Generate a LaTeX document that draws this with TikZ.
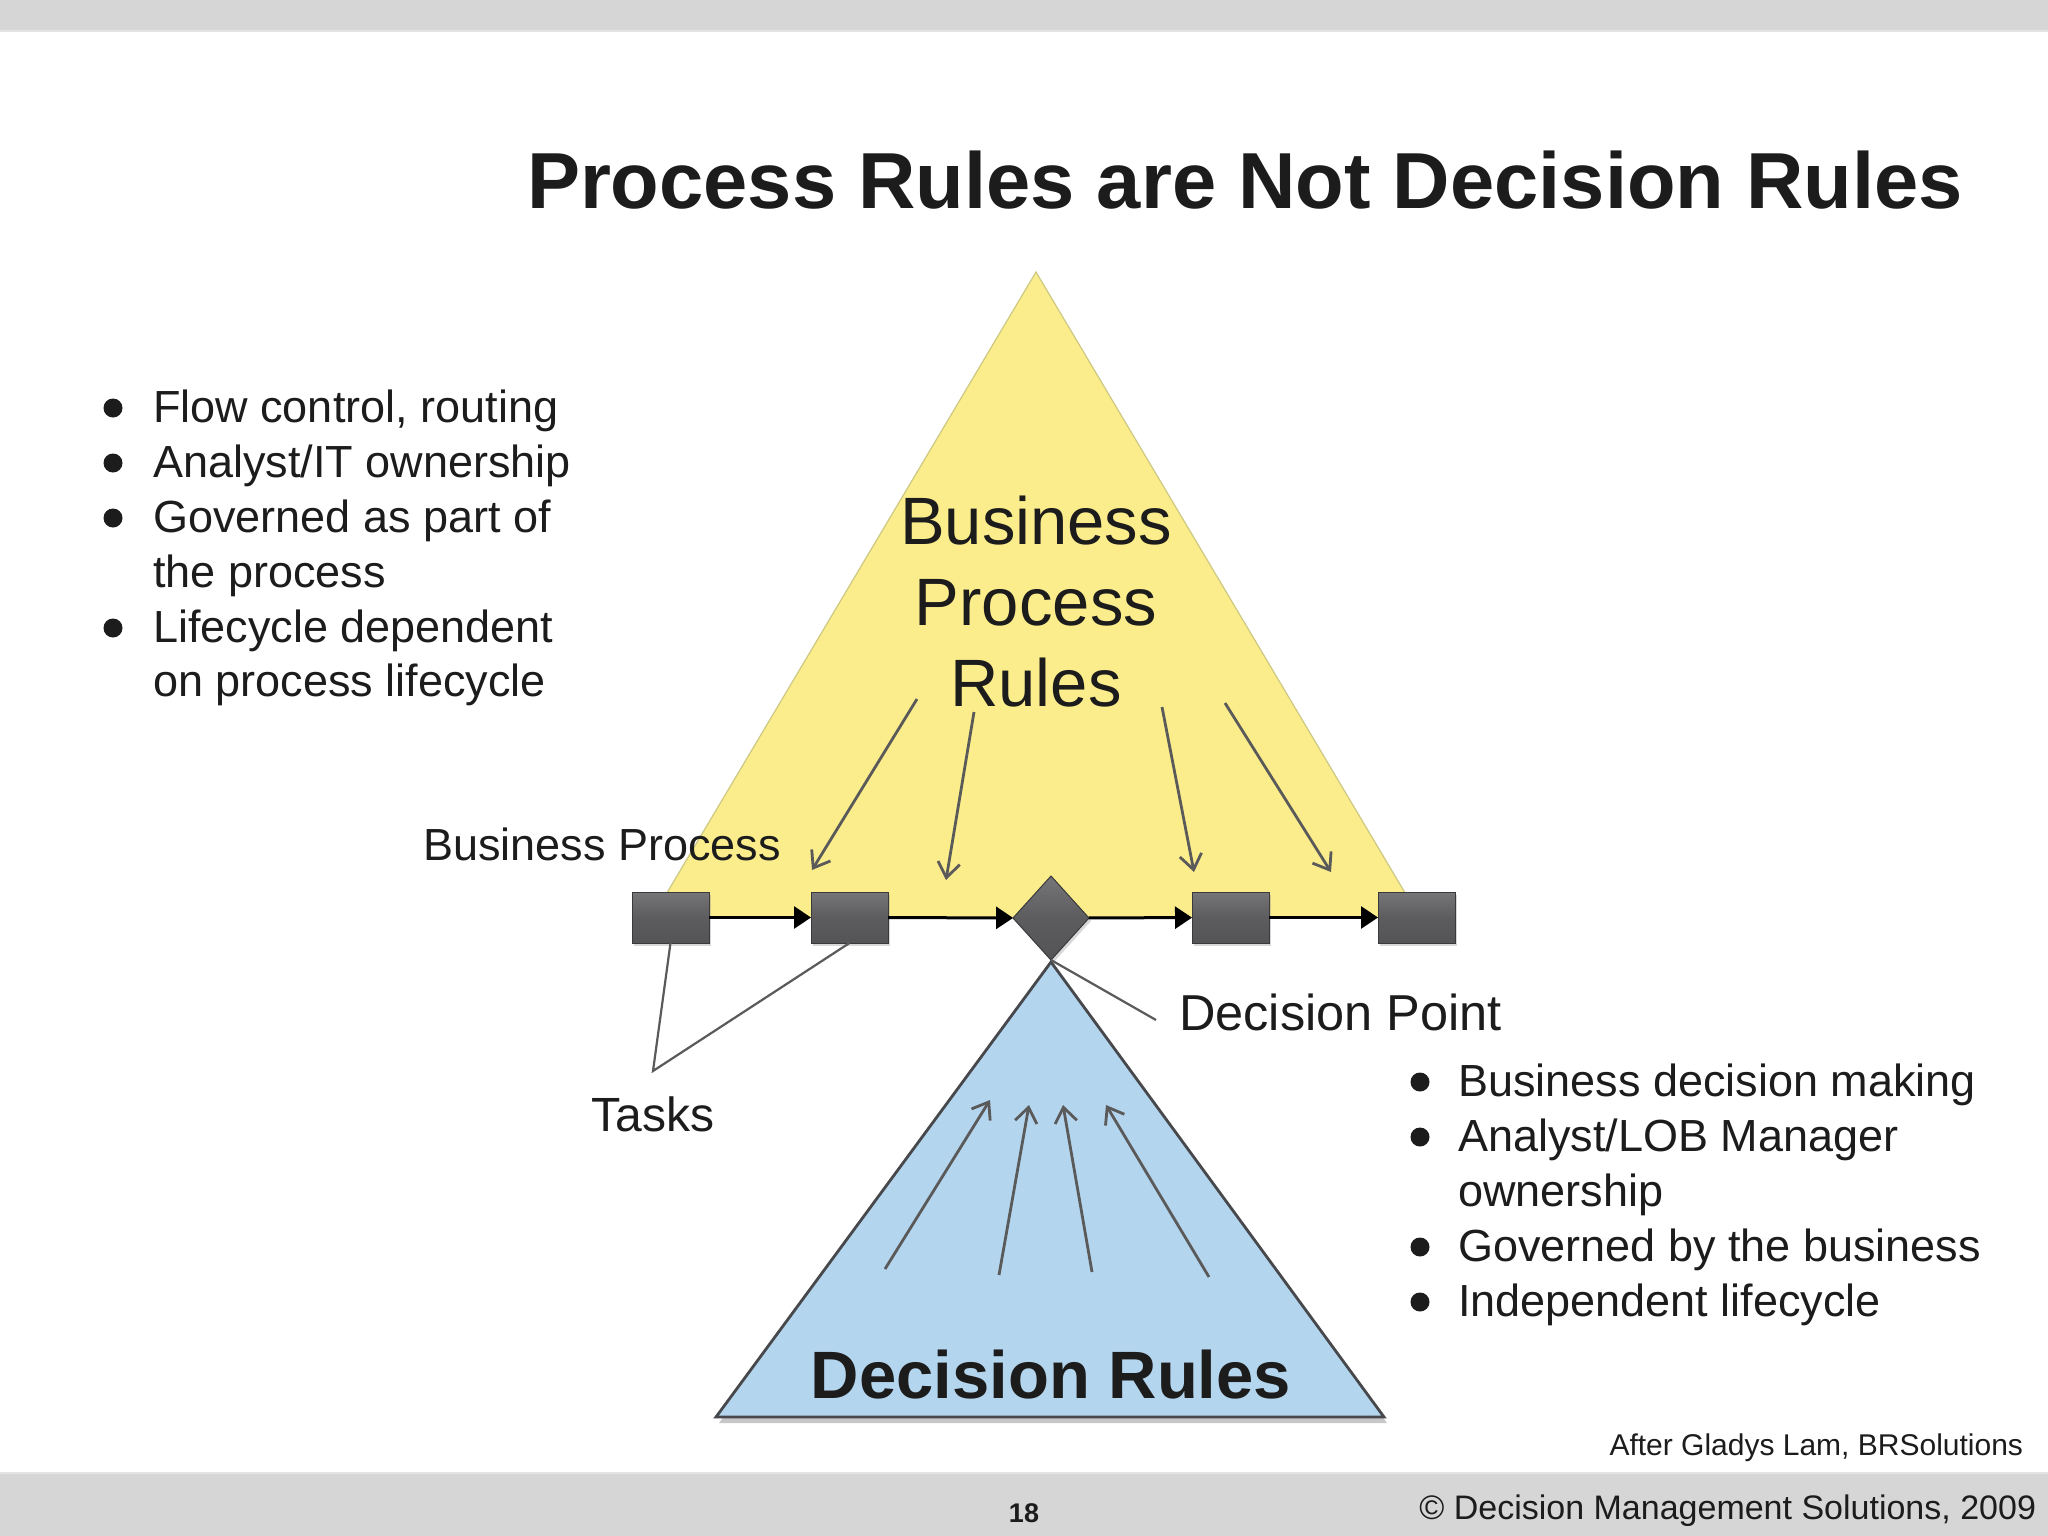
\documentclass[tikz,border=0pt]{standalone}
\usepackage{fontspec}
\setmainfont{Liberation Sans}
\usetikzlibrary{arrows.meta,shapes.geometric,shadows}
\definecolor{ylw}{RGB}{252,237,140}
\definecolor{ylwedge}{RGB}{205,200,130}
\definecolor{blu}{RGB}{180,213,238}
\definecolor{bluedge}{RGB}{70,72,76}
\definecolor{barg}{RGB}{214,214,214}
\definecolor{barline}{RGB}{228,228,228}
\definecolor{arr}{RGB}{90,90,90}
\definecolor{boxtop}{RGB}{118,118,120}
\definecolor{boxbot}{RGB}{84,84,86}
\definecolor{boxedge}{RGB}{58,58,60}
\definecolor{txt}{RGB}{28,28,28}
\begin{document}
\begin{tikzpicture}[x=1pt,y=-1pt,
  every node/.style={inner sep=0pt, outer sep=0pt, text=txt},
  fsbody/.style={font=\fontsize{45}{54}\selectfont},
  fsbig/.style={font=\fontsize{67}{80}\selectfont},
  taskbox/.style={rectangle, minimum width=77pt, minimum height=51pt,
    draw=boxedge, line width=1pt, top color=boxtop, bottom color=boxbot, middle color=boxbot!95!white,
    drop shadow={opacity=0.3,shadow xshift=2pt,shadow yshift=-3pt}},
  decbox/.style={diamond, minimum width=76pt, minimum height=84pt,
    draw=boxedge, line width=1pt, top color=boxtop, bottom color=boxbot, middle color=boxbot!95!white,
    drop shadow={opacity=0.3,shadow xshift=2pt,shadow yshift=-3pt}},
  flow/.style={draw=black, line width=3pt, -{Triangle[length=17pt,width=22pt]}},
  rulearrow/.style={draw=arr, line width=2.8pt, -{Straight Barb[length=15pt,width=22pt]}},
  pointer/.style={draw=arr, line width=2.2pt},
  bul/.style={fill=txt},
]
\useasboundingbox (0,0) rectangle (2048,1536);
\fill[white] (0,0) rectangle (2048,1536);
% bars
\fill[barg] (0,0) rectangle (2048,31);
\draw[barline, line width=1.5pt] (0,31) -- (2048,31);
\fill[barg] (0,1473) rectangle (2048,1536);
\draw[barline, line width=1.5pt] (0,1473) -- (2048,1473);

% title
\node[anchor=base, font=\bfseries\fontsize{79.5}{90}\selectfont] (title) at (1245,208) {Process Rules are Not Decision Rules};

% yellow triangle
\coordinate (yA) at (1036,272);
\coordinate (yL) at (652,918);
\coordinate (yR) at (1420,918);
\fill[ylw] (yA) -- (yR) -- (yL) -- cycle;
\draw[ylwedge, line width=1.2pt] (yL) -- (yA) -- (yR);

% blue triangle
\coordinate (bA) at (1051,962);
\coordinate (bL) at (716,1417);
\coordinate (bR) at (1384,1417);
\fill[black, opacity=0.22] ([shift={(3,6)}]bA) -- ([shift={(3,6)}]bR) -- ([shift={(3,6)}]bL) -- cycle;
\filldraw[fill=blu, draw=bluedge, line width=2.8pt, line join=miter] (bA) -- (bR) -- (bL) -- cycle;

% labels inside triangles
\node[anchor=base, fsbig] (bpr1) at (1036,544) {Business};
\node[anchor=base, fsbig] (bpr2) at (1036,625) {Process};
\node[anchor=base, fsbig] (bpr3) at (1036,706) {Rules};
\node[anchor=base, font=\bfseries\fontsize{67}{80}\selectfont] (dr) at (1051,1398) {Decision Rules};

% rule arrows (yellow)
\coordinate (ys1) at (917,699);  \coordinate (ye1) at (812,870);
\coordinate (ys2) at (974,712);  \coordinate (ye2) at (946,880);
\coordinate (ys3) at (1162,707); \coordinate (ye3) at (1194,872);
\coordinate (ys4) at (1225,703); \coordinate (ye4) at (1331,872);
\draw[rulearrow] (ys1) -- (ye1);
\draw[rulearrow] (ys2) -- (ye2);
\draw[rulearrow] (ys3) -- (ye3);
\draw[rulearrow] (ys4) -- (ye4);

% rule arrows (blue)
\coordinate (bs1) at (885,1269);  \coordinate (be1) at (990,1100);
\coordinate (bs2) at (999,1275);  \coordinate (be2) at (1029,1105);
\coordinate (bs3) at (1092,1272); \coordinate (be3) at (1063,1105);
\coordinate (bs4) at (1209,1277); \coordinate (be4) at (1106,1105);
\draw[rulearrow] (bs1) -- (be1);
\draw[rulearrow] (bs2) -- (be2);
\draw[rulearrow] (bs3) -- (be3);
\draw[rulearrow] (bs4) -- (be4);

% process flow
\node[taskbox] (t1) at (670.5,917.5) {};
\node[taskbox] (t2) at (849.5,917.5) {};
\node[decbox] (dp) at (1051,918) {};
\node[taskbox] (t3) at (1230.5,917.5) {};
\node[taskbox] (t4) at (1416.5,917.5) {};
\draw[flow] (t1) -- (t2);
\draw[flow] (t2) -- (dp);
\draw[flow] (dp) -- (t3);
\draw[flow] (t3) -- (t4);

\node[anchor=base west, fsbody] (bp) at (423,860) {Business Process};

% Tasks
\coordinate (tj) at (653,1071);
\draw[pointer] (t1.south) -- (tj) -- (t2.south);
\node[anchor=base, font=\fontsize{48}{56}\selectfont] (tasks) at (653,1131) {Tasks};

% Decision point
\coordinate (dpj) at (1156,1020);
\draw[pointer] (dp.south) -- (dpj);
\node[anchor=base west, font=\fontsize{50.5}{58}\selectfont] (dpl) at (1179,1030) {Decision Point};

% left bullets
\foreach \y in {422,477,532,642} { \fill[bul] (113,\y-14) circle (9.5); }
\node[anchor=base west, fsbody] (l1) at (153,422) {Flow control, routing};
\node[anchor=base west, fsbody] (l2) at (153,477) {Analyst/IT ownership};
\node[anchor=base west, fsbody] (l3) at (153,532) {Governed as part of};
\node[anchor=base west, fsbody] (l4) at (153,587) {the process};
\node[anchor=base west, fsbody] (l5) at (153,642) {Lifecycle dependent};
\node[anchor=base west, fsbody] (l6) at (153,696) {on process lifecycle};

% right bullets
\foreach \y in {1096,1151,1261,1316} { \fill[bul] (1420,\y-14) circle (9.5); }
\node[anchor=base west, fsbody] (r1) at (1458,1096) {Business decision making};
\node[anchor=base west, fsbody] (r2) at (1458,1151) {Analyst/LOB Manager};
\node[anchor=base west, fsbody] (r3) at (1458,1206) {ownership};
\node[anchor=base west, fsbody] (r4) at (1458,1261) {Governed by the business};
\node[anchor=base west, fsbody] (r5) at (1458,1316) {Independent lifecycle};

% footer
\node[anchor=base east, font=\fontsize{30}{36}\selectfont] (after) at (2023,1455) {After Gladys Lam, BRSolutions};
\node[anchor=base east, font=\fontsize{34}{40}\selectfont] (copy) at (2036,1519) {© Decision Management Solutions, 2009};
\node[anchor=base, font=\bfseries\fontsize{27}{32}\selectfont] (pg) at (1024,1522) {18};
\end{tikzpicture}
\end{document}
